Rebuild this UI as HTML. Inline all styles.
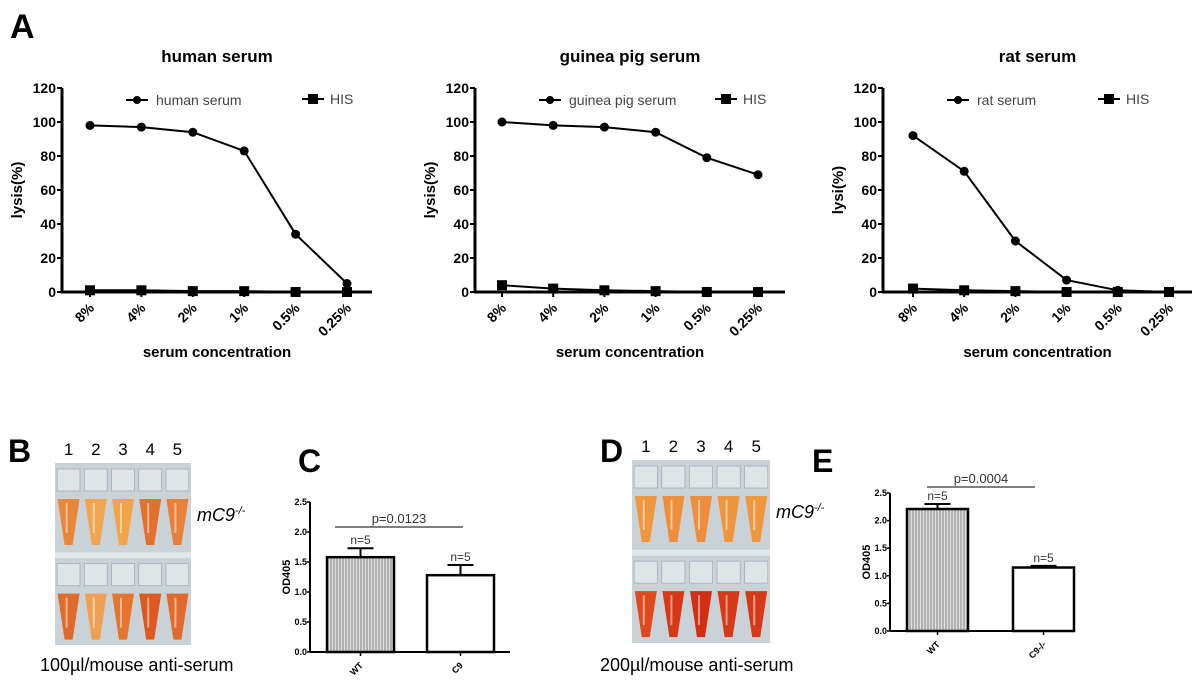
<!DOCTYPE html>
<html><head><meta charset="utf-8">
<style>
html,body{margin:0;padding:0;background:#fff;}
svg{display:block;font-family:"Liberation Sans",Arial,sans-serif;}
</style></head>
<body>
<svg id="fig" width="1200" height="686" viewBox="0 0 1200 686">
<text x="10" y="38" font-size="34" font-weight="bold">A</text>
<text x="8" y="462" font-size="32" font-weight="bold">B</text>
<text x="298" y="472" font-size="32" font-weight="bold">C</text>
<text x="600" y="462" font-size="32" font-weight="bold">D</text>
<text x="812" y="472" font-size="32" font-weight="bold">E</text>
<g id="charts"></g>
</svg>
<script>
const categories = ["8%","4%","2%","1%","0.5%","0.25%"];
const humanSerum = [98,97,94,83,34,5];
const humanHIS = [1,1,0.5,0.5,0,0];
const guineaSerum = [100,98,97,94,79,69];
const guineaHIS = [4,2,1,0.5,0,0];
const ratSerum = [92,71,30,7,1,0];
const ratHIS = [2,1,0.5,0,0,0];
const yTicks = [0,20,40,60,80,100,120];
const barCatsC = ["WT","C9"];
const barValsC = [1.58,1.28];
const barErrC = [0.15,0.17];
const barCatsE = ["WT","C9-/-"];
const barValsE = [2.21,1.15];
const barErrE = [0.09,0.03];
const barTicks = [0,0.5,1.0,1.5,2.0,2.5];

const NS="http://www.w3.org/2000/svg";
const root=document.getElementById('charts');
function mk(tag,attrs,parent,txt){const e=document.createElementNS(NS,tag);for(const k in attrs)e.setAttribute(k,attrs[k]);if(txt!==undefined)e.textContent=txt;(parent||root).appendChild(e);return e;}

function lineChart(o){
  const g=mk('g',{});
  
  
  const y0=292,y1=88,ymax=120;
  const ys=v=>y0-(v/ymax)*(y0-y1);
  const xs=i=>o.x0+i*(o.x5-o.x0)/5;
  const t=mk('text',{x:(o.ax+o.end)/2,y:62,'font-size':17,'font-weight':'bold','text-anchor':'middle'},g,o.title);
  
  
  mk('line',{x1:o.ax,y1:y1,x2:o.ax,y2:y0+1,stroke:'#000','stroke-width':3},g);
  mk('line',{x1:o.ax-1,y1:y0,x2:o.end,y2:y0,stroke:'#000','stroke-width':3},g);
  yTicks.forEach(v=>{
    mk('line',{x1:o.ax-5,y1:ys(v),x2:o.ax,y2:ys(v),stroke:'#000','stroke-width':2},g);
    const l=mk('text',{x:o.ax-6,y:ys(v)+5,'font-size':14,'font-weight':'bold','text-anchor':'end'},g,String(v));
    
    
  });
  categories.forEach((c,i)=>{
    mk('line',{x1:xs(i),y1:y0,x2:xs(i),y2:y0+5,stroke:'#000','stroke-width':2},g);
    const l=mk('text',{x:xs(i)+5,y:y0+17,'font-size':14,'font-weight':'bold','text-anchor':'end',transform:`rotate(-45 ${xs(i)+5} ${y0+17})`},g,c);
    
    
  });
  const yl=mk('text',{x:o.ax-40,y:190,'font-size':15,'font-weight':'bold','text-anchor':'middle',transform:`rotate(-90 ${o.ax-40} 190)`},g,o.ylab);
  
  
  const xl=mk('text',{x:(o.ax+o.end)/2,y:357,'font-size':15,'font-weight':'bold','text-anchor':'middle'},g,'serum concentration');
  
  
  mk('polyline',{points:o.his.map((v,i)=>xs(i)+','+ys(v)).join(' '),fill:'none',stroke:'#000','stroke-width':2},g);
  o.his.forEach((v,i)=>{const r=mk('rect',{x:xs(i)-5,y:ys(v)-5,width:10,height:10,fill:'#000'},g);
    
    });
  mk('polyline',{points:o.serum.map((v,i)=>xs(i)+','+ys(v)).join(' '),fill:'none',stroke:'#000','stroke-width':2},g);
  o.serum.forEach((v,i)=>{const c=mk('circle',{cx:xs(i),cy:ys(v),r:4.5,fill:'#000'},g);
    
    });
  const lx=o.ax+64;
  mk('line',{x1:lx,y1:100,x2:lx+22,y2:100,stroke:'#000','stroke-width':2},g);
  mk('circle',{cx:lx+11,cy:100,r:4,fill:'#000'},g);
  const lt=mk('text',{x:lx+30,y:105,'font-size':14,fill:'#444'},g,o.title);
  
  
  const hx=o.ax+o.hisOff;
  mk('line',{x1:hx,y1:99,x2:hx+22,y2:99,stroke:'#000','stroke-width':2},g);
  mk('rect',{x:hx+6,y:94,width:10,height:10,fill:'#000'},g);
  const ht=mk('text',{x:hx+28,y:104,'font-size':14,fill:'#444'},g,'HIS');
  
  
}
lineChart({name:'human',title:'human serum',ylab:'lysis(%)',ax:62,x0:90,x5:347,end:372,serum:humanSerum,his:humanHIS,hisOff:240});
lineChart({name:'guinea-pig',title:'guinea pig serum',ylab:'lysis(%)',ax:475,x0:502,x5:758,end:785,serum:guineaSerum,his:guineaHIS,hisOff:240});
lineChart({name:'rat',title:'rat serum',ylab:'lysi(%)',ax:883,x0:913,x5:1169,end:1192,serum:ratSerum,his:ratHIS,hisOff:215});

function barChart(o){
  const g=mk('g',{});
  
  
  const ys=v=>o.y0-(v/2.5)*(o.y0-o.y1);
  mk('line',{x1:o.ax,y1:o.y1,x2:o.ax,y2:o.y0,stroke:'#000','stroke-width':2},g);
  mk('line',{x1:o.ax,y1:o.y0,x2:o.end,y2:o.y0,stroke:'#000','stroke-width':2},g);
  barTicks.forEach(v=>{
    mk('line',{x1:o.ax-3,y1:ys(v),x2:o.ax,y2:ys(v),stroke:'#000','stroke-width':1.5},g);
    const l=mk('text',{x:o.ax-3,y:ys(v)+3,'font-size':9,'font-weight':'bold','text-anchor':'end'},g,v.toFixed(1));
    
    
  });
  const yl=mk('text',{x:o.ax-20,y:(o.y0+o.y1)/2,'font-size':11,'font-weight':'bold','text-anchor':'middle',transform:`rotate(-90 ${o.ax-20} ${(o.y0+o.y1)/2})`},g,'OD405');
  
  
  o.cats.forEach((c,i)=>{
    const bx=o.bx[i],w=o.bw,top=ys(o.vals[i]),et=ys(o.vals[i]+o.err[i]),cx=bx+w/2;
    mk('line',{x1:cx,y1:et,x2:cx,y2:top,stroke:'#000','stroke-width':2},g);
    mk('line',{x1:cx-13,y1:et,x2:cx+13,y2:et,stroke:'#000','stroke-width':2},g);
    const r=mk('rect',{x:bx,y:top,width:w,height:o.y0-top,fill:i==0?'url(#stripes)':'#fff',stroke:'#000','stroke-width':2.5},g);
    
    
    const n=mk('text',{x:cx,y:et-4,'font-size':12,'text-anchor':'middle',fill:'#333'},g,'n=5');
    
    
    mk('line',{x1:cx,y1:o.y0,x2:cx,y2:o.y0+4,stroke:'#000','stroke-width':1.5},g);
    const xl=mk('text',{x:cx+3,y:o.y0+14,'font-size':9,'font-weight':'bold','text-anchor':'end',transform:`rotate(-45 ${cx+3} ${o.y0+14})`},g,c);
    
    
  });
  mk('line',{x1:o.px[0],y1:o.py,x2:o.px[1],y2:o.py,stroke:'#333','stroke-width':1.2},g);
  const p=mk('text',{x:(o.px[0]+o.px[1])/2,y:o.py-4,'font-size':13,'text-anchor':'middle',fill:'#333'},g,o.p);
  
  
}
const defs=mk('defs',{});
const pat=mk('pattern',{id:'stripes',width:3,height:4,patternUnits:'userSpaceOnUse'},defs);
mk('rect',{width:3,height:4,fill:'#ddd'},pat);
mk('line',{x1:1,y1:0,x2:1,y2:4,stroke:'#888','stroke-width':1},pat);
barChart({name:'c',cats:barCatsC,vals:barValsC,err:barErrC,ax:310,end:510,y0:652,y1:502,bx:[327,427],bw:67,px:[335,463],py:527,p:'p=0.0123'});
barChart({name:'e',cats:barCatsE,vals:barValsE,err:barErrE,ax:890,end:1073,y0:631,y1:493,bx:[907,1013],bw:61,px:[927,1035],py:487,p:'p=0.0004'});

function tubes(o){
  const g=mk('g',{});
  
  
  mk('rect',{x:o.x,y:o.y,width:o.w,height:o.h,fill:'#c9d2d6'},g);
  mk('rect',{x:o.x,y:o.y+o.h*0.49,width:o.w,height:6,fill:'#e2e8ea'},g);
  const step=o.w/5;
  for(let r=0;r<2;r++){
    for(let i=0;i<5;i++){
      const cx=o.x+step*(i+0.5),top=o.y+r*o.h*0.52+6;
      mk('rect',{x:cx-step*0.42,y:top,width:step*0.84,height:22,fill:'#dfe4e6',stroke:'#aab',"stroke-width":0.8},g);
      mk('path',{d:`M${cx-11} ${top+30} L${cx+11} ${top+30} L${cx+4} ${top+76} L${cx-4} ${top+76} Z`,fill:o.colors[r][i]},g);
      mk('line',{x1:cx-2,y1:top+34,x2:cx-2,y2:top+64,stroke:'#fff','stroke-opacity':0.5,'stroke-width':2},g);
    }
  }
  for(let i=0;i<5;i++){
    const t=mk('text',{x:o.x+step*(i+0.5),y:o.y-8,'font-size':17,'text-anchor':'middle'},g,String(i+1));
    
    
  }
  const m=mk('text',{x:o.x+o.w+6,y:o.y+58,'font-size':18,'font-style':'italic'},g,'mC9');
  
  
  mk('tspan',{dy:-7,'font-size':11},m,'-/-');
  const c=mk('text',{x:o.cx,y:671,'font-size':18},g,o.cap);
  
  
}
tubes({name:'b',x:55,y:463,w:136,h:182,cx:40,cap:'100µl/mouse anti-serum',colors:[['#e8863a','#f0a550','#f2a548','#e4702e','#e8803a'],['#e06a2a','#eea052','#e4742e','#dc5a22','#e06a2c']]});
tubes({name:'d',x:632,y:460,w:138,h:183,cx:600,cap:'200µl/mouse anti-serum',colors:[['#f0963e','#ee8e3a','#ee8e3c','#f0943e','#f0963e'],['#e0481e','#d83818','#d42e14','#d83a18','#d8381a']]});
</script>
</body></html>
